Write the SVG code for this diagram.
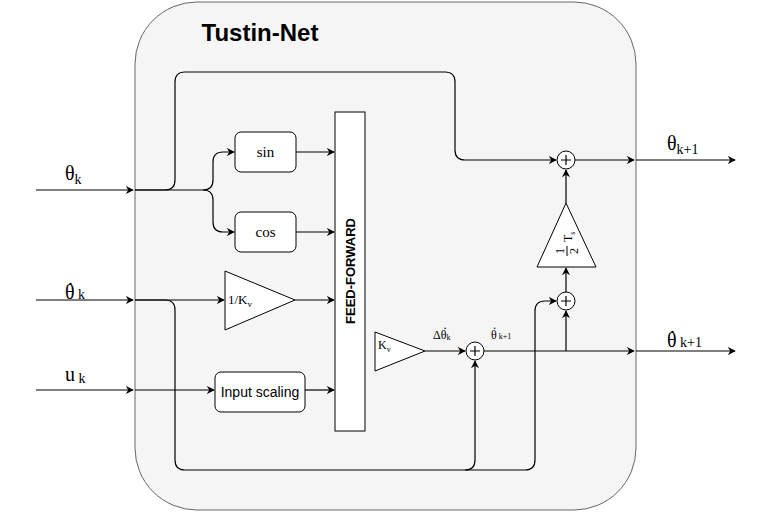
<svg xmlns="http://www.w3.org/2000/svg" width="777" height="512" viewBox="0 0 777 512">
<defs>
<marker id="a" viewBox="0 0 10 10" refX="9" refY="5" markerWidth="8" markerHeight="8" orient="auto" markerUnits="userSpaceOnUse"><path d="M0,0 L10,5 L0,10 L3,5 Z" fill="#000"/></marker>
</defs>
<style>
.l{fill:none;stroke:#000;stroke-width:1.2}
.b{fill:#fff;stroke:#000;stroke-width:1}
.s{font-family:"Liberation Serif",serif;fill:#000}
.t{font-family:"Liberation Sans",sans-serif;fill:#000}
</style>
<rect x="135" y="2" width="501" height="508" rx="62" fill="#f5f5f5" stroke="#666"/>
<text class="t" x="260" y="41" font-size="24" font-weight="bold" text-anchor="middle">Tustin-Net</text>
<g id="connectors">
<path class="l" d="M36,190 H133" marker-end="url(#a)"/>
<path class="l" d="M135,190 H165 Q175,190 175,180 V82 Q175,72 185,72 H445 Q455,72 455,82 V150 Q455,160 465,160 H556" marker-end="url(#a)"/>
<path class="l" d="M135,190 H203 Q213,190 213,180 V162 Q213,152 223,152 H234" marker-end="url(#a)"/>
<path class="l" d="M203,190 Q213,190 213,200 V222 Q213,232 223,232 H234" marker-end="url(#a)"/>
<path class="l" d="M296,152 H334" marker-end="url(#a)"/>
<path class="l" d="M296,232 H334" marker-end="url(#a)"/>
<path class="l" d="M36,300 H133" marker-end="url(#a)"/>
<path class="l" d="M135,300 H224" marker-end="url(#a)"/>
<path class="l" d="M295,300 H334" marker-end="url(#a)"/>
<path class="l" d="M135,300 H165 Q175,300 175,310 V460 Q175,470 185,470 H465 Q475,470 475,460 V361" marker-end="url(#a)"/>
<path class="l" d="M465,470 H525 Q535,470 535,460 V311 Q535,301 545,301 H556" marker-end="url(#a)"/>
<path class="l" d="M36,390 H133" marker-end="url(#a)"/>
<path class="l" d="M135,390 H214" marker-end="url(#a)"/>
<path class="l" d="M305,390 H334" marker-end="url(#a)"/>
<path class="l" d="M425,351 H465" marker-end="url(#a)"/>
<path class="l" d="M484,351 H634" marker-end="url(#a)"/>
<path class="l" d="M636,351 H735" marker-end="url(#a)"/>
<path class="l" d="M566,351 V311" marker-end="url(#a)"/>
<path class="l" d="M566,292 V268" marker-end="url(#a)"/>
<path class="l" d="M566,203 V170" marker-end="url(#a)"/>
<path class="l" d="M575,160 H634" marker-end="url(#a)"/>
<path class="l" d="M636,160 H735" marker-end="url(#a)"/>
</g>
<g id="sin"><rect class="b" x="235" y="132" width="61" height="40" rx="6"/><text class="s" x="265.5" y="157" font-size="15" text-anchor="middle">sin</text></g>
<g id="cos"><rect class="b" x="235" y="212" width="61" height="40" rx="6"/><text class="s" x="265.5" y="237" font-size="15" text-anchor="middle">cos</text></g>
<g id="invkv"><path class="b" d="M225,271 L295,300 L225,330 Z"/><text class="s" x="228" y="304" font-size="13">1/K<tspan font-size="9" dy="3">v</tspan></text></g>
<g id="scaling"><rect class="b" x="215" y="372" width="90" height="40" rx="6"/><text class="t" x="260" y="397" font-size="14" text-anchor="middle">Input scaling</text></g>
<g id="ff"><rect class="b" x="335" y="112" width="30" height="319"/><text class="t" x="355" y="271" font-size="13" font-weight="bold" text-anchor="middle" transform="rotate(-90 355 271)">FEED-FORWARD</text></g>
<g id="kv"><path class="b" d="M375,332 L425,351 L375,371 Z"/><text class="s" x="378" y="349" font-size="12">K<tspan font-size="8" dy="3">v</tspan></text></g>
<g id="sum1"><circle class="b" cx="475" cy="351" r="9"/><path class="l" d="M470,351 H480 M475,346 V356"/></g>
<g id="sum2"><circle class="b" cx="566" cy="301" r="9"/><path class="l" d="M561,301 H571 M566,296 V306"/></g>
<g id="sum3"><circle class="b" cx="566" cy="160" r="9"/><path class="l" d="M561,160 H571 M566,155 V165"/></g>
<g id="ts"><path class="b" d="M537,267 L566,203 L596,267 Z"/>
<g transform="rotate(-90 566 244)"><text class="s" x="559" y="242" font-size="12" text-anchor="middle">1</text><line x1="554" y1="245" x2="564" y2="245" stroke="#000"/><text class="s" x="559" y="256" font-size="12" text-anchor="middle">2</text><text class="s" x="568" y="250" font-size="12">T<tspan font-size="8" dy="3">s</tspan></text></g></g>
<g id="labels">
<text class="s" x="65" y="180" font-size="20">θ<tspan font-size="14" dy="4">k</tspan></text>
<text class="s" x="65" y="299" font-size="20">θ<tspan font-size="14" dy="0"> k</tspan></text>
<text class="s" x="70.5" y="297" font-size="22" text-anchor="middle">˙</text>
<text class="s" x="65" y="381" font-size="20">u<tspan font-size="14" dy="2"> k</tspan></text>
<text class="s" x="667" y="150" font-size="20">θ<tspan font-size="14" dy="4">k+1</tspan></text>
<text class="s" x="667" y="347" font-size="20">θ<tspan font-size="14" dy="0"> k+1</tspan></text>
<text class="s" x="672.5" y="345" font-size="22" text-anchor="middle">˙</text>
<text class="s" x="433" y="339" font-size="12">Δθ<tspan font-size="8" dy="1">k</tspan></text>
<text class="s" x="445" y="337" font-size="14" text-anchor="middle">˙</text>
<text class="s" x="491" y="339" font-size="12">θ<tspan font-size="8" dy="0"> k+1</tspan></text>
<text class="s" x="494.5" y="337" font-size="14" text-anchor="middle">˙</text>
</g>
</svg>
